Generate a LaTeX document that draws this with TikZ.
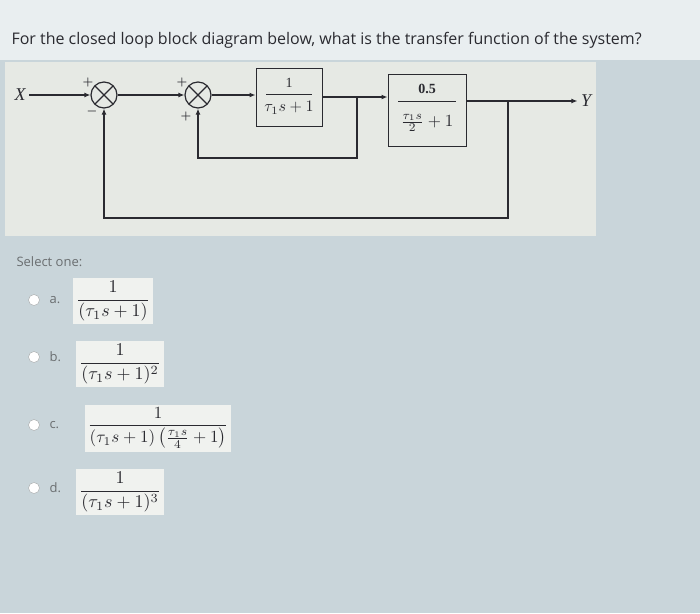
\documentclass[tikz,border=0pt]{standalone}
\usepackage{fontspec}
\usepackage{amsmath}
\usepackage{graphicx}
\setmainfont{Open Sans}
\newfontfamily\diag{Liberation Serif}
\usetikzlibrary{arrows.meta}
\definecolor{bgc}{HTML}{C9D5DA}
\definecolor{panelc}{HTML}{E6E9E4}
\definecolor{ink}{HTML}{2A2A30}
\definecolor{greytxt}{HTML}{6A6E70}
\tikzset{
  sumj/.style={circle,draw=ink,line width=1.2pt,minimum size=26pt,inner sep=0pt,path picture={
      \draw[ink,line width=1.1pt] (path picture bounding box.north west)--(path picture bounding box.south east)
        (path picture bounding box.north east)--(path picture bounding box.south west);}},
  blk/.style={draw=ink,line width=1pt,fill=panelc,inner sep=0pt},
  wire/.style={ink,line width=1.8pt},
  arr/.style={wire,-{Latex[length=6pt,width=5pt]}},
  sgn/.style={text=ink,inner sep=0pt},
  radio/.style={circle,draw=greytxt!60,fill=white,minimum size=11pt,inner sep=0pt},
  opt/.style={font=\fontsize{13}{13}\selectfont,text=greytxt,anchor=west},
  frac/.style={fill=panelc!60,inner sep=3pt,text=ink}
}
\begin{document}
\begin{tikzpicture}[x=1pt,y=-1pt]
\useasboundingbox (0,0) rectangle (700,613);
\fill[bgc] (0,0) rectangle (700,613);
\fill[white!60!bgc] (0,0) rectangle (700,60);
\fill[panelc] (5,62) rectangle (596,236);
\node[anchor=west,font=\fontsize{16}{17}\selectfont,text=ink] (title) at (8,40)
  {For the closed loop block diagram below, what is the transfer function of the system?};
% diagram
\node[font=\diag\itshape\fontsize{18}{18}\selectfont,text=ink] (X) at (20,95) {X};
\node[sumj] (s1) at (104,95) {};
\node[sumj] (s2) at (198,95) {};
\node[blk,minimum width=66pt,minimum height=58pt] (b1) at (289,97) {};
\node[font=\diag\fontsize{14}{14}\selectfont,text=ink] (b1n) at (289,83) {1};
\draw[ink,line width=0.8pt] (266,94) -- (312,94);
\node[text=ink] (b1d) at (289,108) {\scalebox{1.6}{$\tau_1 s+1$}};
\node[blk,minimum width=78pt,minimum height=72pt] (b2) at (427,110) {};
\node[font=\diag\bfseries\fontsize{14}{14}\selectfont,text=ink] (b2n) at (427,89) {0.5};
\draw[ink,line width=0.8pt] (398,101) -- (456,101);
\node[text=ink] (b2d) at (427,123) {\scalebox{1.7}{$\frac{\tau_1 s}{2}+1$}};
\node[font=\diag\itshape\fontsize{18}{18}\selectfont,text=ink] (Y) at (586,101) {Y};
\coordinate (j1) at (357,97);
\coordinate (j2) at (508,101);
\draw[arr] (X.east) -- (s1.west);
\draw[arr] (s1.east) -- (s2.west);
\draw[arr] (s2.east) -- (b1.west|-s2);
\draw[arr] (b1.east|-j1) -- (j1) -- (b2.west|-j1);
\draw[arr] (b2.east|-j2) -- (j2) -- (Y.west);
\draw[arr] (j1) -- (357,158) -- (198,158) -- (s2.south);
\draw[arr] (j2) -- (508,218) -- (104,218) -- (s1.south);
\node[sgn] (p1) at (88,82) {\scalebox{1.2}{$\boldsymbol{+}$}};
\node[sgn] (m1) at (92,111) {\scalebox{1.2}{$\boldsymbol{-}$}};
\node[sgn] (p2) at (182,82) {\scalebox{1.2}{$\boldsymbol{+}$}};
\node[sgn] (p3) at (186,116) {\scalebox{1.2}{$\boldsymbol{+}$}};
% options
\node[opt] (sel) at (13,262) {Select one:};
\node[radio] (ra) at (34,300) {};
\node[opt] (la) at (46,300) {a.};
\node[frac] (fa) at (113,301) {\scalebox{1.8}{$\dfrac{1}{(\tau_1 s+1)}$}};
\node[radio] (rb) at (34,357) {};
\node[opt] (lb) at (46,357) {b.};
\node[frac] (fb) at (120,364) {\scalebox{1.8}{$\dfrac{1}{(\tau_1 s+1)^2}$}};
\node[radio] (rc) at (34,425) {};
\node[opt] (lc) at (46,425) {c.};
\node[frac] (fc) at (158,428) {\scalebox{1.7}{$\dfrac{1}{(\tau_1 s+1)\left(\frac{\tau_1 s}{4}+1\right)}$}};
\node[radio] (rd) at (34,488) {};
\node[opt] (ld) at (46,488) {d.};
\node[frac] (fd) at (120,492) {\scalebox{1.8}{$\dfrac{1}{(\tau_1 s+1)^3}$}};
\end{tikzpicture}
\end{document}
